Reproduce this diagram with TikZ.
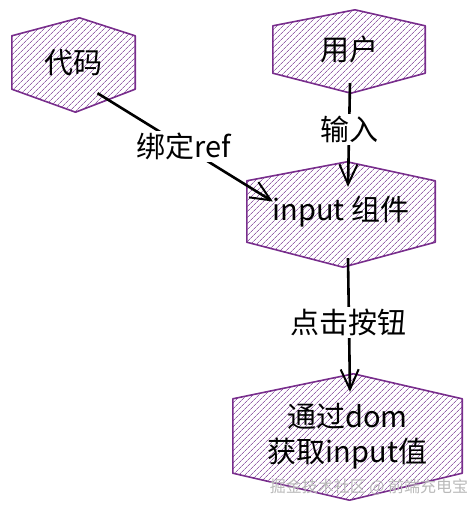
\documentclass[tikz,border=0pt]{standalone}
\usepackage{fontspec}
\newfontfamily\cjk{Noto Sans CJK SC}
\usetikzlibrary{arrows.meta,patterns.meta,backgrounds}
\definecolor{hexline}{RGB}{120,45,140}
\definecolor{hexfill}{RGB}{150,100,170}
\tikzset{
  hexbox/.style={draw=hexline, line width=1.6pt, line join=round,
    pattern={Lines[angle=45,distance=4pt,line width=0.75pt]}, pattern color=hexfill},
  box/.style={inner sep=0pt, align=center, font=\cjk\fontsize{29}{35}\selectfont},
  lbl/.style={fill=white, inner sep=2pt, font=\cjk\fontsize{29}{32}\selectfont},
  arr/.style={line width=2.6pt, -{Straight Barb[length=20pt,width=18pt,line width=2pt]}}
}
\newcommand{\hexa}[3]{\draw[hexbox] (#1.north west) -- ([shift={(6pt,#2)}]#1.north)
  -- (#1.north east) -- (#1.south east) -- ([shift={(2pt,-#3)}]#1.south)
  -- (#1.south west) -- cycle;}
\begin{document}
\begin{tikzpicture}[x=1pt,y=-1pt]
  \useasboundingbox (0,0) rectangle (474,512);
  \node[box, minimum width=123pt, minimum height=53pt] (code) at (73.5, 62.5) {代码};
  \node[box, minimum width=152pt, minimum height=47pt] (user) at (349, 49.5) {用户};
  \node[box, minimum width=188pt, minimum height=61pt] (input) at (341, 211.5) {input 组件};
  \node[box, minimum width=229pt, minimum height=74pt] (value) at (347.5, 436) {通过dom\\获取input值};
  \begin{scope}[on background layer]
    \hexa{code}{18pt}{23pt}
    \hexa{user}{16pt}{20pt}
    \hexa{input}{19pt}{25pt}
    \hexa{value}{25pt}{27pt}
  \end{scope}
  \draw[arr] ([shift={(24pt,-4pt)}]code.south) -- node[lbl, pos=0.49] {绑定ref} ([shift={(26pt,10pt)}]input.west);
  \draw[arr] ([shift={(1pt,-10pt)}]user.south) -- node[lbl, pos=0.45] {输入} ([shift={(7pt,-6pt)}]input.north);
  \draw[arr] ([shift={(7pt,-16pt)}]input.south) -- node[lbl, pos=0.48] {点击按钮} ([shift={(2.5pt,7pt)}]value.north);
  \node[text=gray!55, font=\cjk\fontsize{16}{18}\selectfont] (mark) at (369, 487) {掘金技术社区 @ 前端充电宝};
\end{tikzpicture}
\end{document}
